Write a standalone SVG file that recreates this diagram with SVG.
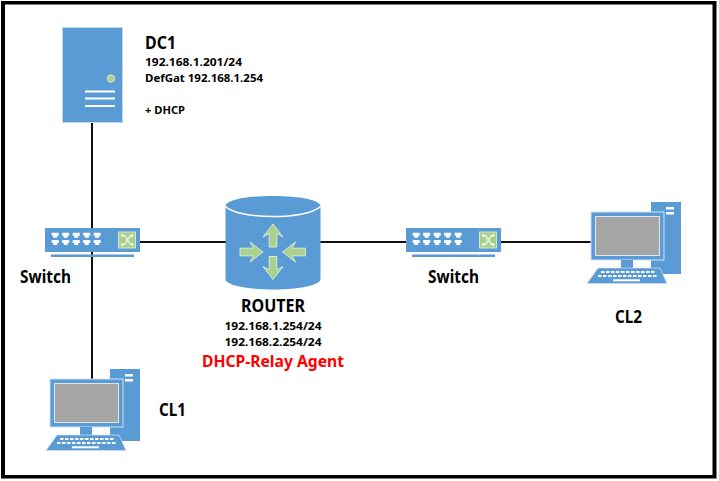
<svg xmlns="http://www.w3.org/2000/svg" xmlns:xlink="http://www.w3.org/1999/xlink" width="719" height="481" viewBox="0 0 719 481">
<style>
.b{fill:#5b9bd5}
.w{fill:#fff}
.g{fill:#a9d18e}
.ln{stroke:#111;stroke-width:2;fill:none}
text{font-family:"Noto Sans","Open Sans",sans-serif;font-weight:700;fill:#000}
.h{font-size:17px}
.s{font-size:11px}
.r{font-size:16.500px;fill:#f00}
</style>
<defs>
<g id="switch">
<rect class="b" x="0" y="0" width="95" height="24"/>
<rect class="b" x="6" y="26.500" width="83" height="2.500"/>
<g class="w">
<path id="pa" d="M6.700 4.700h7v3h-1.500v2h-4v-2h-1.500zM6.700 12h7v3h-1.500v2h-4v-2h-1.500z"/>
<use xlink:href="#pa" x="10.500"/><use xlink:href="#pa" x="21"/><use xlink:href="#pa" x="31.500"/><use xlink:href="#pa" x="42"/>
</g>
<rect x="73.500" y="4" width="17" height="16" class="g" stroke="#d5e6ca" stroke-width="1"/>
<path d="M77 7.500h2.500l6 9H88M77 16.500h2.500l6-9H88" fill="none" stroke="#fff" stroke-width="1.200"/>
<path d="M75.500 7.500l2.500-2v4zM75.500 16.500l2.500-2v4zM89 7.500l-2.500-2v4zM89 16.500l-2.500-2v4z" class="w"/>
</g>
<g id="pc">
<rect class="b" x="60" y="0" width="30" height="72"/>
<rect class="w" x="75" y="5" width="8" height="2.500"/>
<rect class="w" x="75" y="10" width="8" height="2.500"/>
<rect class="b" x="0" y="10" width="73" height="48" stroke="#cfe2f3" stroke-width="1"/>
<rect x="4.500" y="14.500" width="64" height="39" fill="#a5a5a5" stroke="#dfe7ee" stroke-width="1"/>
<rect class="b" x="30" y="58" width="12" height="8"/>
<path class="b" d="M7 66h62l7 15.500h-80z" stroke="#cfe2f3" stroke-width=".7"/>
<path d="M10 70h55M7 74h60" fill="none" stroke="#fff" stroke-width="2.200" stroke-dasharray="3.500 1.500"/>
<rect class="w" x="22" y="77.300" width="27" height="2"/>
</g>
<path id="arrow" class="g" stroke="#dbe9d0" stroke-width="1" d="M0-11.500L10 1.500L3.800-2V11.500H-3.800V-2L-10 1.500Z"/>
</defs>
<path d="M1 1H716.500V478.500H1ZM5 4.500V475H712.500V4.500Z" fill="#000" fill-rule="evenodd"/>
<g id="connectors" class="ln">
<path d="M92 122V380"/>
<path d="M140 242H226"/>
<path d="M320 242H406"/>
<path d="M501 242H591"/>
</g>
<g id="dc1">
<rect class="b" x="62.500" y="27.500" width="60" height="95" stroke="#bdd7ee" stroke-width="1"/>
<circle cx="111" cy="78.500" r="3.800" class="g" stroke="#e2efd9" stroke-width=".8"/>
<rect class="w" x="85" y="90.500" width="30" height="2"/>
<rect class="w" x="85" y="97.500" width="30" height="2"/>
<rect class="w" x="85" y="105" width="30" height="2"/>
<text class="h" x="145" y="49" textLength="31" lengthAdjust="spacingAndGlyphs">DC1</text>
<text class="s" x="145" y="66" textLength="97" lengthAdjust="spacingAndGlyphs">192.168.1.201/24</text>
<text class="s" x="145" y="82" textLength="118" lengthAdjust="spacingAndGlyphs">DefGat 192.168.1.254</text>
<text class="s" x="145" y="114" textLength="40" lengthAdjust="spacingAndGlyphs">+ DHCP</text>
</g>
<g id="switch1">
<use xlink:href="#switch" x="45" y="228"/>
<text class="h" x="20" y="283" textLength="51" lengthAdjust="spacingAndGlyphs">Switch</text>
</g>
<g id="router">
<path class="b" d="M225.500 206.500C225.500 200 246 196 273 196S320.500 200 320.500 206.500V279C320.500 285 300 289.500 273 289.500S225.500 285 225.500 279Z"/>
<path d="M225.500 206.500C232 213 252 216.500 273 216.500S314 213 320.500 206.500" fill="none" stroke="#fff" stroke-width="1.500"/>
<use xlink:href="#arrow" transform="translate(273 235.500)"/>
<use xlink:href="#arrow" transform="translate(273 268) rotate(180)"/>
<use xlink:href="#arrow" transform="translate(251.500 252) rotate(90)"/>
<use xlink:href="#arrow" transform="translate(294 252) rotate(-90)"/>
<text class="h" x="241" y="312" textLength="64" lengthAdjust="spacingAndGlyphs">ROUTER</text>
<text class="s" x="224.500" y="330" textLength="97" lengthAdjust="spacingAndGlyphs">192.168.1.254/24</text>
<text class="s" x="224.500" y="346" textLength="97" lengthAdjust="spacingAndGlyphs">192.168.2.254/24</text>
<text class="r" x="202" y="367" textLength="142" lengthAdjust="spacingAndGlyphs">DHCP-Relay Agent</text>
</g>
<g id="switch2">
<use xlink:href="#switch" x="406" y="228"/>
<text class="h" x="428" y="283" textLength="51" lengthAdjust="spacingAndGlyphs">Switch</text>
</g>
<g id="cl2">
<use xlink:href="#pc" x="591" y="202"/>
<text class="h" x="615" y="323" textLength="27" lengthAdjust="spacingAndGlyphs">CL2</text>
</g>
<g id="cl1">
<use xlink:href="#pc" x="50" y="369"/>
<text class="h" x="159" y="416" textLength="27" lengthAdjust="spacingAndGlyphs">CL1</text>
</g>
</svg>
